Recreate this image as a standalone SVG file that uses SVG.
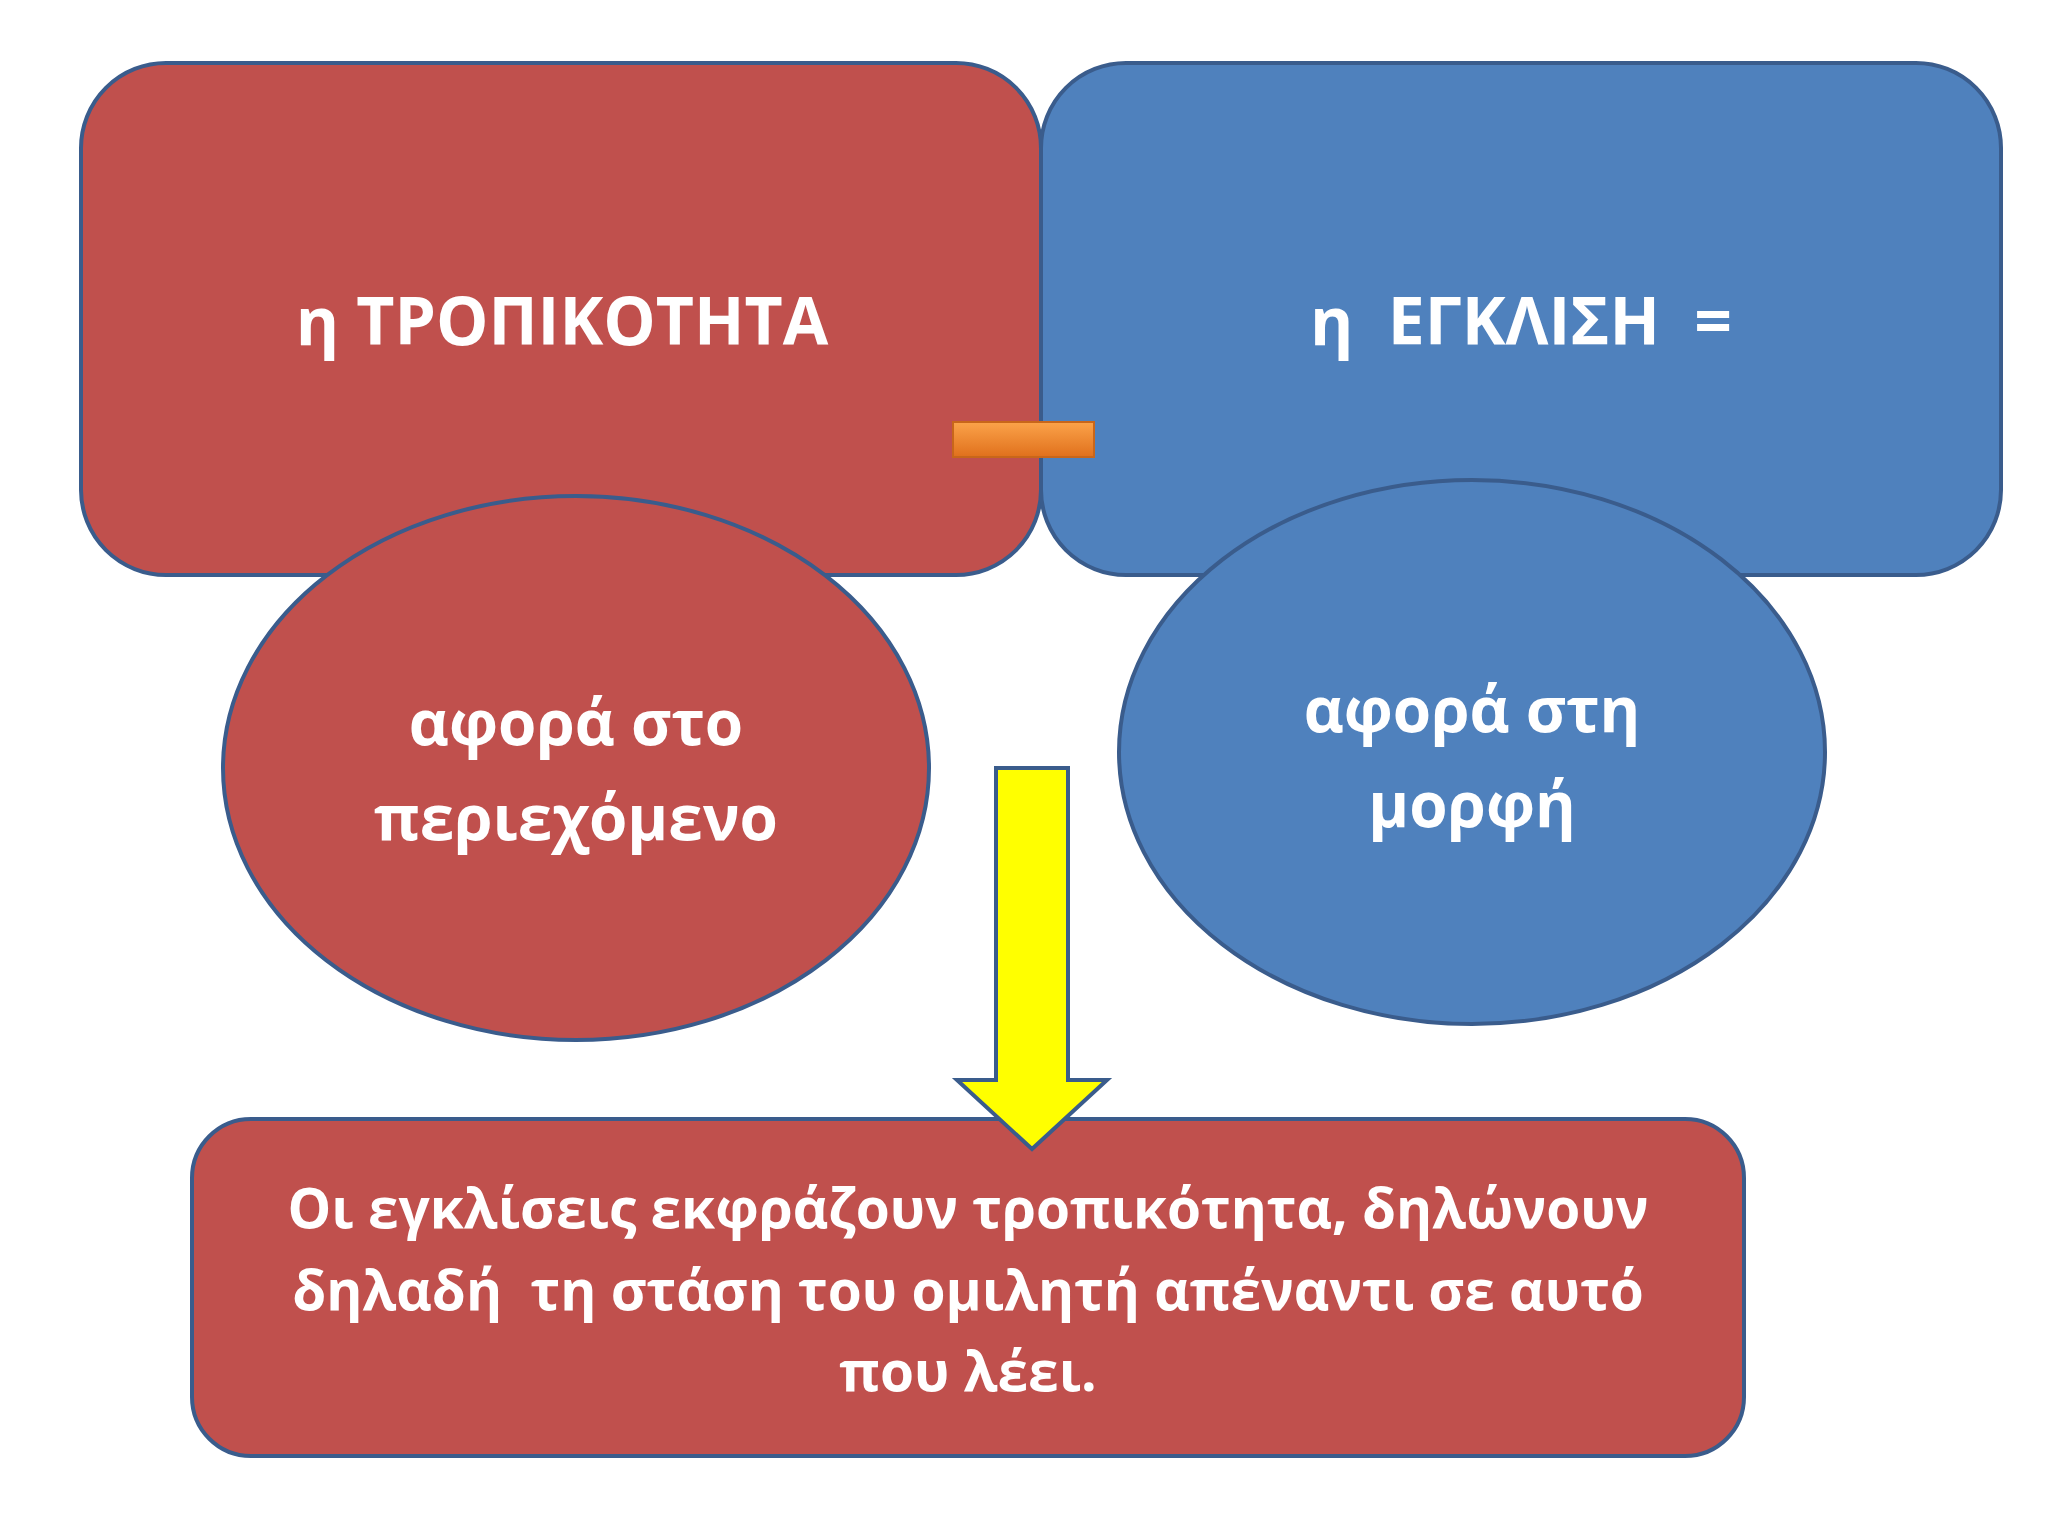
<svg xmlns="http://www.w3.org/2000/svg" width="2048" height="1536" viewBox="0 0 2048 1536">
<defs>
<linearGradient id="og" x1="0" y1="0" x2="0" y2="1"><stop offset="0" stop-color="#fba34a"/><stop offset="1" stop-color="#e0701c"/></linearGradient>
<style>
.s{stroke:#3a5c8c;stroke-width:4}
.r{fill:#c0504d}.b{fill:#4f81bd}
text{font-family:"Open Sans","Liberation Sans",sans-serif;font-weight:bold;fill:#fff;text-anchor:middle}
</style>
</defs>
<rect width="2048" height="1536" fill="#fff"/>
<g id="tropikotita"><rect class="s r" x="81" y="63" width="960" height="512" rx="85"/><text x="562" y="345" font-size="66">η ΤΡΟΠΙΚΟΤΗΤΑ</text></g>
<g id="enklisi"><rect class="s b" x="1041" y="63" width="960" height="512" rx="85"/><text x="1521" y="345" font-size="66" xml:space="preserve">η  ΕΓΚΛΙΣΗ  =</text></g>
<g id="ellipse1"><ellipse class="s r" cx="576" cy="768" rx="353" ry="272"/><text x="576" y="745" font-size="62">αφορά στο</text><text x="576" y="840" font-size="62">περιεχόμενο</text></g>
<g id="ellipse2"><ellipse class="s b" cx="1472" cy="752" rx="353" ry="272"/><text x="1472" y="732" font-size="62">αφορά στη</text><text x="1472" y="827" font-size="62">μορφή</text></g>
<g id="bottom"><rect class="s r" x="192" y="1119" width="1552" height="337" rx="59"/>
<text x="968" y="1228" font-size="55">Οι εγκλίσεις εκφράζουν τροπικότητα, δηλώνουν</text>
<text x="968" y="1310" font-size="55" xml:space="preserve">δηλαδή  τη στάση του ομιλητή απέναντι σε αυτό</text>
<text x="968" y="1391" font-size="55">που λέει.</text></g>
<g id="connectors">
<rect x="953" y="422" width="141" height="35" fill="url(#og)" stroke="#c8661a" stroke-width="2"/>
<path class="s" fill="#ffff00" d="M996 768H1068V1080H1107L1032 1149L957 1080H996Z"/>
</g>
</svg>
